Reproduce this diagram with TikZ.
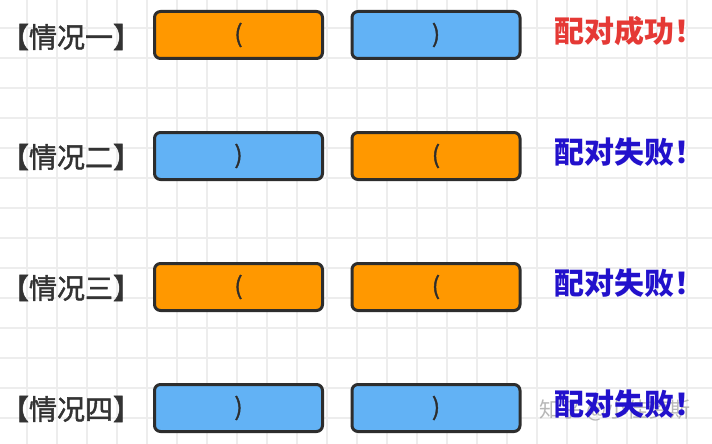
\documentclass[tikz,border=0pt]{standalone}
\usepackage{fontspec}
\newfontfamily\cjk{Noto Sans CJK SC}
\newfontfamily\cjkm{Noto Sans CJK SC}[FakeBold=1.6]
\definecolor{gridc}{HTML}{EDEDED}
\definecolor{orangec}{HTML}{FF9800}
\definecolor{bluec}{HTML}{62B2F5}
\definecolor{borderc}{HTML}{2D2D2D}
\definecolor{labelc}{HTML}{333333}
\definecolor{okc}{HTML}{E53935}
\definecolor{failc}{HTML}{2211CC}
\tikzset{
  pbox/.style={draw=borderc, line width=3pt, rounded corners=6pt, minimum width=168pt, minimum height=47pt, inner sep=0pt, text=borderc, font=\cjkm\fontsize{24}{24}\selectfont},
  obox/.style={pbox, fill=orangec},
  bbox/.style={pbox, fill=bluec},
  case/.style={text=labelc, inner sep=0pt, font=\cjkm\fontsize{28}{28}\selectfont},
  ok/.style={text=okc, inner sep=0pt, font=\cjk\bfseries\fontsize{30}{30}\selectfont},
  fail/.style={text=failc, inner sep=0pt, font=\cjk\bfseries\fontsize{30}{30}\selectfont},
  wm/.style={text=gray!70, opacity=0.8, inner sep=0pt, font=\cjk\fontsize{21}{21}\selectfont}
}
\begin{document}
\begin{tikzpicture}[x=1pt,y=-1pt]
\fill[white] (0,0) rectangle (712,444);
\useasboundingbox (0,0) rectangle (712,444);
\foreach \k in {0,...,22} {
  \draw[gridc, line width=1.3pt] ({27+30*\k},0) -- ({27+30*\k},444);
}
\foreach \k in {0,...,14} {
  \draw[gridc, line width=1.3pt] (0,{28+30*\k}) -- (712,{28+30*\k});
}
% row 1
\node[case] (c1) at (71,37) {【情况一】};
\node[obox] (a1) at (238.5,35) {(};
\node[bbox] (b1) at (436,35) {)};
\node[ok] (r1) at (629,31) {配对成功！};
% row 2
\node[case] (c2) at (71,157) {【情况二】};
\node[bbox] (a2) at (238.5,156) {)};
\node[obox] (b2) at (436,156) {(};
\node[fail] (r2) at (629,152) {配对失败！};
% row 3
\node[case] (c3) at (71,288) {【情况三】};
\node[obox] (a3) at (238.5,287) {(};
\node[obox] (b3) at (436,287) {(};
\node[fail] (r3) at (629,283) {配对失败！};
% row 4
\node[case] (c4) at (71,409) {【情况四】};
\node[bbox] (a4) at (238.5,408) {)};
\node[bbox] (b4) at (436,408) {)};
\node[wm] (w) at (615,410) {知乎 @小佳梦斯};
\node[fail] (r4) at (629,404) {配对失败！};
\end{tikzpicture}
\end{document}
